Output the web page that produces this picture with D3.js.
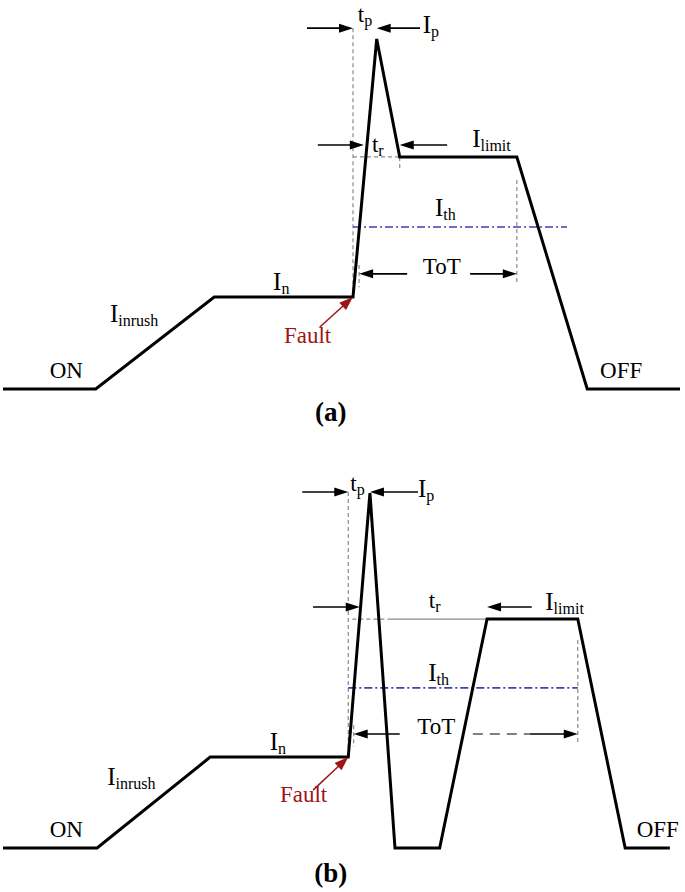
<!DOCTYPE html>
<html>
<head>
<meta charset="utf-8">
<script src="https://cdn.jsdelivr.net/npm/d3@7"></script>
<style>
  body { margin: 0; background: #fff; }
  svg { display: block; font-family: "Liberation Serif", "DejaVu Serif", serif; }
</style>
</head>
<body>
<div id="chart"></div>
<script>
// waveform vertices, time in % of window, current in % of Ip
const timeA = [0, 13.7, 31.2, 51.7, 55.2, 58.6, 75.9, 86.3, 100];
const currentA = [0, 0, 26.3, 26.3, 100, 66.3, 66.3, 0, 0];
const timeB = [0, 13.9, 30.6, 51.0, 54.2, 57.9, 64.5, 71.5, 84.9, 91.9, 98.5];
const currentB = [0, 0, 25.6, 25.6, 100, 0, 0, 64.5, 64.5, 0, 0];

// levels: In, Ith, Ilimit, Ip
const levelsA = [26.3, 46.3, 66.3, 100];
const levelsB = [25.6, 45.1, 64.5, 100];

// guide verticals [t, c0, c1]
const guidesA = [[51.7, 103.1, 26.3], [52.6, 35.4, 29.1], [58.6, 66.3, 62.6], [75.9, 59.7, 29.7]];
const guidesB = [[51.0, 100.3, 25.6], [51.8, 34.6, 28.5], [84.9, 58.6, 29.0]];

// arrows [tFrom, tTo, c]
const arrowsA = [[44.9, 51.7, 103.1], [61.6, 55.2, 103.1], [46.5, 53.3, 69.7], [65.6, 58.6, 69.7], [59.7, 52.6, 32.9], [69.0, 75.9, 32.9]];
const arrowsB = [[44.2, 51.0, 100.3], [61.3, 54.2, 100.3], [45.8, 52.7, 67.9], [78.1, 71.5, 67.9], [58.6, 51.8, 32.1], [77.8, 84.9, 32.1]];

// labels [main, sub, t, c]
const labelsA = [["t", "p", 52.4, 104.9], ["I", "p", 62.0, 101.7], ["t", "r", 54.5, 67.7], ["I", "limit", 69.3, 69.1],
  ["I", "th", 63.8, 49.4], ["ToT", "", 62.0, 32.9], ["I", "n", 39.9, 28.3], ["I", "inrush", 15.8, 19.1],
  ["ON", "", 6.9, 3.1], ["OFF", "", 88.2, 3.1]];
const labelsB = [["t", "p", 51.3, 100.6], ["I", "p", 61.3, 98.9], ["t", "r", 62.9, 67.6], ["I", "limit", 80.1, 67.0],
  ["I", "th", 62.8, 47.0], ["ToT", "", 61.2, 32.1], ["I", "n", 39.4, 27.6], ["I", "inrush", 15.4, 17.7],
  ["ON", "", 6.9, 3.1], ["OFF", "", 93.6, 3.1]];

const width = 685, height = 892;
const svg = d3.select("#chart").append("svg").attr("width", width).attr("height", height);

const x = d3.scaleLinear().domain([0, 100]).range([3, 680]);

const panels = [
  {
    time: timeA, current: currentA, levels: levelsA, guides: guidesA, arrows: arrowsA, labels: labelsA,
    y: d3.scaleLinear().domain([0, 100]).range([389, 39]),
    ithSpan: [51.7, 83.3], limitRef: [[51.7, 58.6, "dash"]],
    fault: { tail: [46.8, 17.7], tip: [51.7, 26.3], label: [41.5, 13.1] },
    totDash: null, caption: ["(a)", 48.4, -9.1]
  },
  {
    time: timeB, current: currentB, levels: levelsB, guides: guidesB, arrows: arrowsB, labels: labelsB,
    y: d3.scaleLinear().domain([0, 100]).range([848, 493]),
    ithSpan: [51.0, 84.9], limitRef: [[51.6, 56.9, "dash"], [56.9, 71.5, "solid"]],
    fault: { tail: [45.8, 16.3], tip: [51.0, 25.6], label: [40.9, 13.0] },
    totDash: [69.4, 77.8, 32.1], caption: ["(b)", 48.4, -9.6]
  }
];

function arrow(g, x1, x2, yy, color) {
  const dir = Math.sign(x2 - x1), head = 14, hw = 4.5;
  g.append("line")
    .attr("x1", x1).attr("x2", x2 - dir * head * 0.8)
    .attr("y1", yy).attr("y2", yy)
    .attr("stroke", color).attr("stroke-width", 1.6);
  g.append("path")
    .attr("d", `M${x2},${yy} L${x2 - dir * head},${yy - hw} L${x2 - dir * head},${yy + hw} Z`)
    .attr("fill", color);
}

panels.forEach(p => {
  const g = svg.append("g");
  const y = p.y;

  // gray guide lines
  p.guides.forEach(d => {
    g.append("line")
      .attr("x1", x(d[0])).attr("x2", x(d[0]))
      .attr("y1", y(d[1])).attr("y2", y(d[2]))
      .attr("stroke", "#8a8a8a").attr("stroke-width", 1.2).attr("stroke-dasharray", "4,3");
  });
  p.limitRef.forEach(d => {
    g.append("line")
      .attr("x1", x(d[0])).attr("x2", x(d[1]))
      .attr("y1", y(p.levels[2])).attr("y2", y(p.levels[2]))
      .attr("stroke", "#8a8a8a").attr("stroke-width", 1.2)
      .attr("stroke-dasharray", d[2] === "dash" ? "4,3" : null);
  });

  // threshold
  g.append("line")
    .attr("x1", x(p.ithSpan[0])).attr("x2", x(p.ithSpan[1]))
    .attr("y1", y(p.levels[1])).attr("y2", y(p.levels[1]))
    .attr("stroke", "#3f3fb4").attr("stroke-width", 1.6).attr("stroke-dasharray", "8,3,2,3");

  // waveform
  const line = d3.line().x((d, i) => x(p.time[i])).y(d => y(d));
  g.append("path")
    .datum(p.current)
    .attr("d", line)
    .attr("fill", "none").attr("stroke", "#000").attr("stroke-width", 3)
    .attr("stroke-linejoin", "miter");

  // arrows
  p.arrows.forEach(d => arrow(g, x(d[0]), x(d[1]), y(d[2]), "#000"));
  if (p.totDash) {
    g.append("line")
      .attr("x1", x(p.totDash[0])).attr("x2", x(p.totDash[1]))
      .attr("y1", y(p.totDash[2])).attr("y2", y(p.totDash[2]))
      .attr("stroke", "#555").attr("stroke-width", 1.6).attr("stroke-dasharray", "10,7");
  }

  // fault arrow
  const f = p.fault;
  const fx1 = x(f.tail[0]), fy1 = y(f.tail[1]), fx2 = x(f.tip[0]), fy2 = y(f.tip[1]);
  const ang = Math.atan2(fy2 - fy1, fx2 - fx1), hl = 14, hw = 5;
  g.append("line")
    .attr("x1", fx1).attr("y1", fy1)
    .attr("x2", fx2 - Math.cos(ang) * hl * 0.8).attr("y2", fy2 - Math.sin(ang) * hl * 0.8)
    .attr("stroke", "#9e1515").attr("stroke-width", 1.5);
  const bx = fx2 - Math.cos(ang) * hl, by = fy2 - Math.sin(ang) * hl;
  g.append("path")
    .attr("d", `M${fx2},${fy2} L${bx - Math.sin(ang) * hw},${by + Math.cos(ang) * hw} L${bx + Math.sin(ang) * hw},${by - Math.cos(ang) * hw} Z`)
    .attr("fill", "#9e1515");
  g.append("text")
    .attr("x", x(f.label[0])).attr("y", y(f.label[1]))
    .attr("font-size", 23).attr("fill", "#9e1515")
    .text("Fault");

  // labels
  p.labels.forEach(d => {
    const t = g.append("text").attr("x", x(d[2])).attr("y", y(d[3])).attr("fill", "#000");
    t.append("tspan").attr("font-size", d[0] === "I" ? 25 : 23).text(d[0]);
    if (d[1]) t.append("tspan").attr("font-size", 16).attr("dy", 4).text(d[1]);
  });

  g.append("text")
    .attr("x", x(p.caption[1])).attr("y", y(p.caption[2]))
    .attr("text-anchor", "middle").attr("font-size", 27).attr("font-weight", "bold")
    .text(p.caption[0]);
});
</script>
</body>
</html>
